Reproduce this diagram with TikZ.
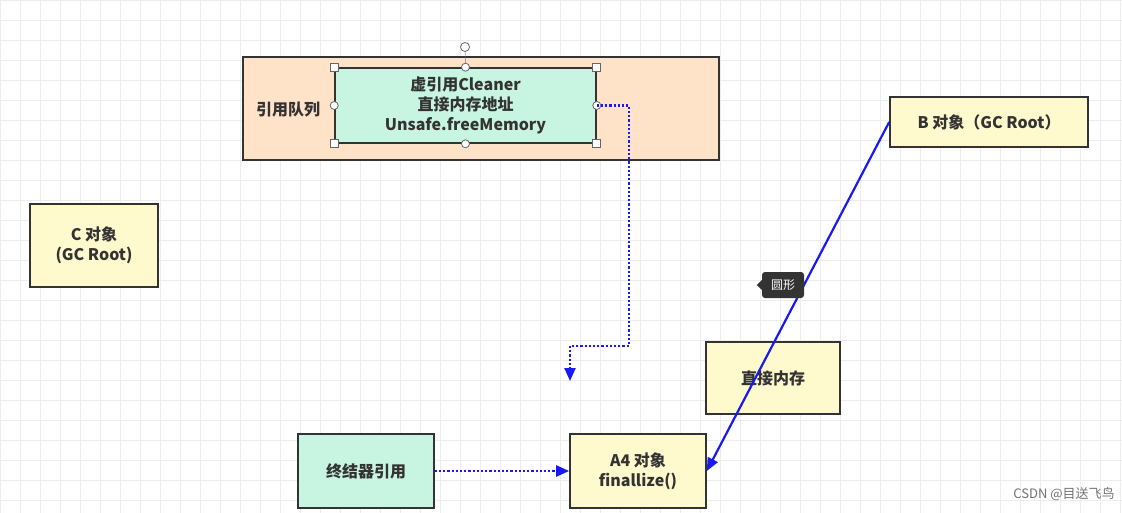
\documentclass[tikz,border=0pt]{standalone}
\usepackage{fontspec}
\setmainfont{Noto Sans CJK SC}
\usetikzlibrary{positioning,arrows.meta}
\definecolor{boxyellow}{HTML}{FFFACD}
\definecolor{boxmint}{HTML}{C8F5E1}
\definecolor{boxpeach}{HTML}{FFE3C9}
\definecolor{linkblue}{HTML}{1A1AF0}
\tikzset{%
	block/.style = {draw=black!80, line width=1.6pt, rectangle, fill=boxyellow,
		font=\fontsize{16}{20}\selectfont\bfseries, text=black!80, align=center},
	handle/.style = {draw=black!60, fill=white, line width=0.8pt, inner sep=0pt}
}
\begin{document}
\begin{tikzpicture}[x=1pt, y=-1pt, >={Triangle[length=13pt,width=11pt]}]
	\fill[white] (0,0) rectangle (1122,513);
	\useasboundingbox (0,0) rectangle (1122,513);
	\draw[black!7, step=20pt] (0,0) grid (1122,513);
	% queue
	\node [block, fill=boxpeach, minimum width=476pt, minimum height=103pt] (queue) at (481,108.5) {};
	\node [block, draw=none, fill=none] (qlabel) at (288,110) {引用队列};
	\node [block, fill=boxmint, minimum width=261pt, minimum height=75pt] (cleaner) at (465.5,105.5)
		{虚引用Cleaner\\直接内存地址\\Unsafe.freeMemory};
	\draw[red!40!black!60, thin] (cleaner.north) -- (465,47);
	\node [handle, circle, minimum size=9pt] (rot) at (465,47) {};
	\foreach \c in {north west, north east, south west, south east}
		\node [handle, minimum size=8pt] at (cleaner.\c) {};
	\foreach \c in {north, south, west, east}
		\node [handle, circle, minimum size=8pt] at (cleaner.\c) {};
	% roots and objects
	\node [block, minimum width=198pt, minimum height=50pt] (broot) at (989,122) {B 对象（GC Root）};
	\node [block, minimum width=128pt, minimum height=83pt] (croot) at (94,245.5) {C 对象\\(GC Root)};
	\node [block, minimum width=134pt, minimum height=72pt] (mem) at (773,378) {直接内存};
	\node [block, fill=boxmint, minimum width=136pt, minimum height=74pt] (final) at (366,471) {终结器引用};
	\node [block, minimum width=136pt, minimum height=74pt] (afour) at (638,471) {A4 对象\\finallize()};
	\coordinate (drop) at (570,381);
	% links
	\draw[->, linkblue, dotted, line width=2.2pt] (cleaner.east) -| (629,346) -| (drop);
	\draw[->, linkblue, dotted, line width=2.2pt] (final) -- (afour);
	\draw[->, linkblue, line width=2.2pt] (broot.west) -- (afour.east);
	% tooltip
	\node [fill=black!80, text=white, rounded corners=3pt, font=\fontsize{12}{14}\selectfont,
		minimum width=42pt, minimum height=26pt] (tip) at (783,285) {圆形};
	\fill[black!80] (tip.west) ++(0,-5) -- ++(-5,5) -- ++(5,5) -- cycle;
	\node [text=black!55, font=\fontsize{13}{15}\selectfont] (mark) at (1064,494) {CSDN @目送飞鸟};
\end{tikzpicture}
\end{document}
